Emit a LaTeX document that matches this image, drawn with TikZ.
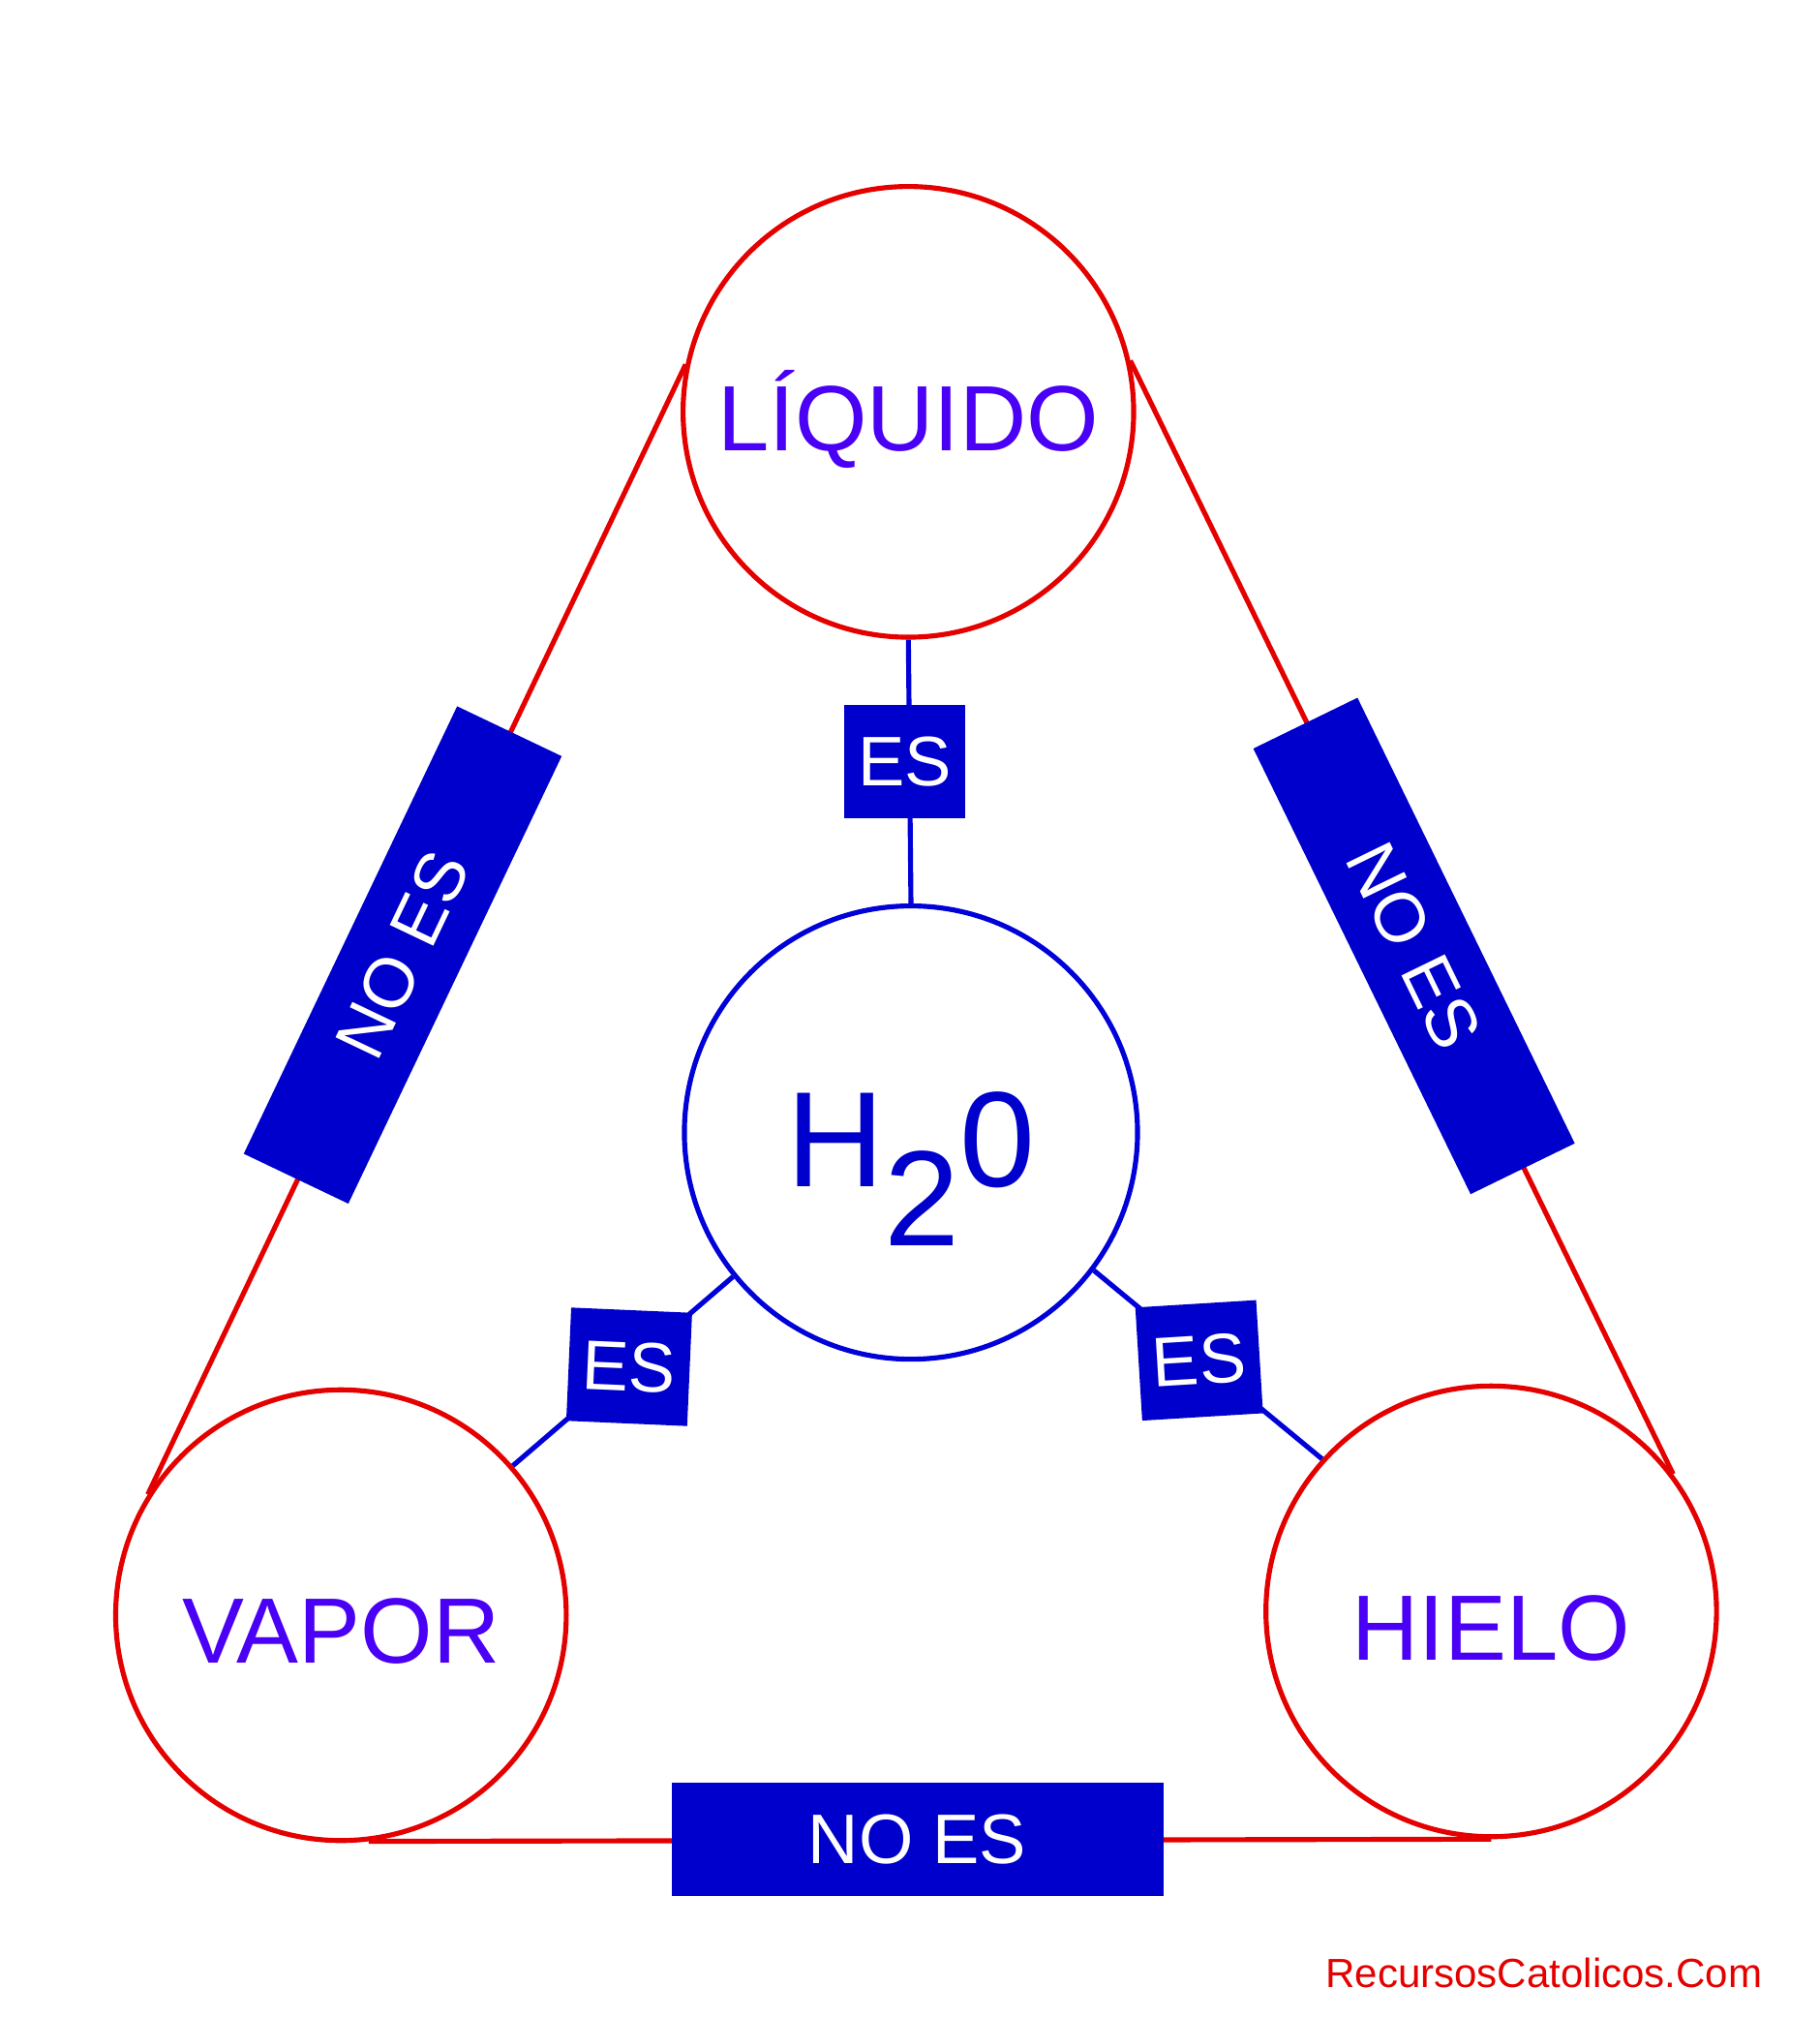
\documentclass[tikz,border=0pt]{standalone}
\usepackage{fontspec}
\setmainfont{Liberation Sans}
\definecolor{lbl}{HTML}{4A00F5}
\newcommand{\lowr}[2]{\smash{\makebox[0pt]{\raisebox{-#1}{#2}}}}
\begin{document}
\begin{tikzpicture}[x=0.01cm,y=-0.01cm,
  red circ/.style={circle,draw=red!90!black,line width=1.1pt,inner sep=0pt,minimum size=3.5cm,text=lbl,font=\fontsize{20.5}{24}\selectfont},
  blue circ/.style={circle,draw=blue!85!black,line width=1.1pt,inner sep=0pt,minimum size=3.52cm,text=blue!80!black},
  box/.style={fill=blue!80!black,text=white,inner sep=0pt,font=\fontsize{15.5}{19}\selectfont},
  redl/.style={draw=red!90!black,line width=1.1pt},
  bluel/.style={draw=blue!85!black,line width=1.1pt}]
\useasboundingbox (0,0) rectangle (1414,1568);
\node[red circ] (liq) at (706,320) {\lowr{0.3cm}{LÍQUIDO}};
\node[blue circ] (h2o) at (708,880) {\fontsize{30}{34}\selectfont\lowr{0.42cm}{H\raisebox{-0.46cm}{2}0}};
\node[red circ] (vap) at (265,1255) {\lowr{0.37cm}{VAPOR}};
\node[red circ] (hie) at (1159,1252) {\lowr{0.38cm}{HIELO}};
% connectors behind
\draw[redl] (liq.168) -- (vap.148);
\draw[redl] (liq.13) -- (hie.37);
\draw[redl] (vap.-83) -- (hie.south);
\draw[bluel] (liq.south) -- (h2o.north);
\draw[bluel] (h2o.219) -- (vap.41);
\draw[bluel] (h2o.-37) -- (hie.138);
% boxes
\node[box,minimum width=3.85cm,minimum height=0.9cm,rotate=64.5] (nl) at (313,742) {NO ES};
\node[box,minimum width=3.85cm,minimum height=0.9cm,rotate=-64] (nr) at (1099,735) {NO ES};
\node[box,minimum width=3.82cm,minimum height=0.88cm] (nb) at (713,1429) {NO ES};
\node[box,minimum width=0.94cm,minimum height=0.88cm] (e1) at (703,592) {ES};
\node[box,minimum width=0.94cm,minimum height=0.88cm,rotate=-2.5] (e2) at (489,1062) {ES};
\node[box,minimum width=0.94cm,minimum height=0.88cm,rotate=3.5] (e3) at (932,1057) {ES};
\node[text=red!90!black,font=\fontsize{9}{11}\selectfont] (wm) at (1200,1533) {RecursosCatolicos.Com};
\end{tikzpicture}
\end{document}
